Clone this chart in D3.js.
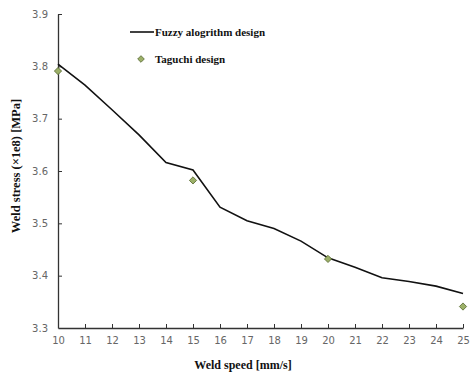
<!DOCTYPE html>
<html>
<head>
<meta charset="utf-8">
<script src="https://cdn.jsdelivr.net/npm/d3@7"></script>
<style>
  body { margin: 0; background: #fff; }
  svg { display: block; }
  .tick text { font-family: "DejaVu Sans", sans-serif; font-size: 10px; fill: #666; }
  .title { font-family: "Liberation Serif", "Times New Roman", serif; font-weight: bold; font-size: 12px; fill: #111; }
  .legend { font-family: "Liberation Serif", "Times New Roman", serif; font-weight: bold; font-size: 11px; fill: #111; }
</style>
</head>
<body>
<div id="chart"></div>
<script>
// weld speed [mm/s]
const speeds = [10, 11, 12, 13, 14, 15, 16, 17, 18, 19, 20, 21, 22, 23, 24, 25];
// fuzzy algorithm design stress (x1e8 MPa)
const fuzzyStress = [3.804, 3.764, 3.717, 3.669, 3.616, 3.602, 3.531, 3.505, 3.490, 3.466, 3.434, 3.416, 3.396, 3.389, 3.380, 3.366];
// taguchi design points
const taguchiSpeeds = [10, 15, 20, 25];
const taguchiStress = [3.791, 3.582, 3.432, 3.341];
const yTicks = [3.3, 3.4, 3.5, 3.6, 3.7, 3.8, 3.9];

const width = 474, height = 377;
const margin = { top: 14, right: 11, bottom: 49, left: 58 };

const svg = d3.select('#chart').append('svg')
  .attr('width', width)
  .attr('height', height);

const x = d3.scaleLinear().domain([10, 25]).range([margin.left, width - margin.right]);
const y = d3.scaleLinear().domain([3.3, 3.9]).range([height - margin.bottom, margin.top]);

// ── Axes ────────────────────────────────────────────
const xAxis = svg.append('g')
  .attr('transform', `translate(0,${height - margin.bottom})`)
  .call(d3.axisBottom(x).tickValues(speeds).tickFormat(d3.format('d')).tickSize(-4).tickSizeOuter(0).tickPadding(9));

const yAxis = svg.append('g')
  .attr('transform', `translate(${margin.left},0)`)
  .call(d3.axisLeft(y).tickValues(yTicks).tickFormat(d3.format('.1f')).tickSize(-4).tickSizeOuter(0).tickPadding(10));

svg.selectAll('.domain').attr('stroke', '#333').attr('stroke-width', 1.3);
svg.selectAll('.tick line').attr('stroke', '#333');
// no inward tick on the corners
xAxis.selectAll('.tick').filter(d => d === 10).select('line').remove();
yAxis.selectAll('.tick').filter(d => d === 3.3).select('line').remove();

// ── Fuzzy line ──────────────────────────────────────
const line = d3.line()
  .x((d, i) => x(speeds[i]))
  .y(d => y(d));

svg.append('path')
  .datum(fuzzyStress)
  .attr('fill', 'none')
  .attr('stroke', '#111')
  .attr('stroke-width', 1.6)
  .attr('d', line);

// ── Taguchi markers (rotated squares = diamonds) ────
const marker = d3.symbol().type(d3.symbolSquare);
svg.selectAll('.taguchi').data(taguchiStress)
  .join('path')
  .attr('class', 'taguchi')
  .attr('transform', (d, i) => `translate(${x(taguchiSpeeds[i])},${y(d)}) rotate(45)`)
  .attr('d', marker.size(26)())
  .attr('fill', '#9cb068')
  .attr('stroke', '#5b6b35')
  .attr('stroke-width', 0.8);

// ── Axis titles ─────────────────────────────────────
svg.append('text')
  .attr('class', 'title')
  .attr('x', 243)
  .attr('y', 369)
  .attr('text-anchor', 'middle')
  .text('Weld speed [mm/s]');

svg.append('text')
  .attr('class', 'title')
  .style('font-size', '12.5px')
  .attr('transform', 'translate(20,166) rotate(-90)')
  .attr('text-anchor', 'middle')
  .text('Weld stress (×1e8) [MPa]');

// ── Legend ──────────────────────────────────────────
svg.append('line')
  .attr('x1', 130).attr('x2', 154)
  .attr('y1', 32).attr('y2', 32)
  .attr('stroke', '#111').attr('stroke-width', 1.6);
svg.append('text').attr('class', 'legend')
  .attr('x', 155).attr('y', 36)
  .text('Fuzzy alogrithm design');

svg.append('path')
  .attr('transform', 'translate(141,59) rotate(45)')
  .attr('d', marker.size(22)())
  .attr('fill', '#9cb068')
  .attr('stroke', '#5b6b35')
  .attr('stroke-width', 0.8);
svg.append('text').attr('class', 'legend')
  .attr('x', 155).attr('y', 63)
  .text('Taguchi design');
</script>
</body>
</html>
